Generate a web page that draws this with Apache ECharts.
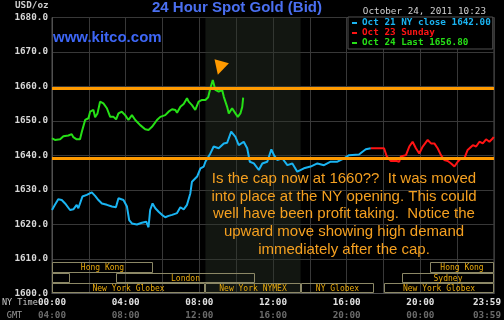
<!DOCTYPE html>
<html><head><meta charset="utf-8">
<script src="https://cdn.jsdelivr.net/npm/echarts@6/dist/echarts.min.js"></script>
<style>html,body{margin:0;padding:0;background:#000;}#c{width:504px;height:320px;}</style>
</head><body><div id="c"></div>
<script>
const titleText = '24 Hour Spot Gold (Bid)';
const siteText = 'www.kitco.com';
const dateText = 'October 24, 2011 10:23';
const unitText = 'USD/oz';
const xRowNames = ['NY Time', 'GMT'];
const seriesNames = ['Oct 21 NY close 1642.00', 'Oct 23 Sunday', 'Oct 24 Last 1656.80'];
const nyTimeLabels = ['00:00','04:00','08:00','12:00','16:00','20:00','23:59'];
const gmtLabels = ['04:00','08:00','12:00','16:00','20:00','00:00','03:59'];

const oct21Hours = [0.00,0.16,0.34,0.53,0.71,0.98,1.16,1.34,1.43,1.52,1.65,1.89,2.16,2.34,2.52,2.71,2.98,3.25,3.47,3.61,3.88,4.07,4.19,4.34,4.61,4.88,5.12,5.24,5.33,5.46,5.61,5.79,5.97,6.15,6.33,6.52,6.79,6.97,7.15,7.33,7.51,7.60,7.88,8.06,8.24,8.33,8.60,8.78,9.05,9.33,9.51,9.73,9.96,10.14,10.41,10.60,10.74,10.96,11.23,11.42,11.69,11.91,12.05,12.23,12.50,12.78,13.05,13.32,13.68,14.04,14.41,14.77,15.13,15.50,15.86,16.13,16.67,16.86,17.04,17.31];
const oct21Prices = [1624.2,1625.7,1627.3,1627.1,1626.1,1624.2,1624.4,1625.7,1624.7,1624.2,1628.1,1628.6,1629.3,1628.3,1627.1,1626.1,1625.7,1625.2,1625.0,1627.6,1627.1,1625.2,1621.3,1620.3,1620.0,1620.5,1620.8,1619.2,1624.2,1626.1,1624.7,1623.7,1622.8,1622.1,1622.5,1622.8,1623.3,1625.0,1624.4,1625.7,1629.0,1632.4,1633.9,1636.3,1636.8,1638.2,1640.6,1642.6,1642.1,1643.5,1643.7,1646.9,1645.4,1643.0,1644.0,1642.1,1638.2,1637.7,1635.8,1637.7,1638.2,1641.8,1640.1,1638.7,1639.2,1637.2,1637.7,1635.3,1636.3,1636.8,1637.7,1637.2,1638.2,1638.2,1639.2,1640.1,1640.3,1641.1,1641.8,1642.1];

const oct23Hours = [17.31,18.03,18.18,18.40,18.67,18.85,18.94,19.22,19.40,19.58,19.76,19.94,20.13,20.40,20.58,20.76,20.94,21.12,21.30,21.49,21.67,21.85,22.03,22.21,22.39,22.57,22.85,23.03,23.21,23.39,23.57,23.75,23.94,23.98];
const oct23Prices = [1642.1,1642.1,1639.7,1638.4,1638.5,1638.2,1639.7,1640.1,1642.6,1644.0,1642.1,1640.6,1642.6,1644.5,1643.5,1643.5,1642.1,1640.1,1638.7,1638.4,1637.7,1636.8,1638.2,1639.2,1639.2,1641.6,1643.0,1642.6,1644.0,1643.5,1644.7,1644.0,1645.0,1645.4];

const oct24Hours = [0.00,0.16,0.44,0.62,0.89,1.07,1.16,1.34,1.52,1.62,1.80,1.98,2.07,2.25,2.34,2.47,2.61,2.79,2.98,3.16,3.34,3.48,3.61,3.79,3.97,4.15,4.34,4.52,4.79,5.06,5.24,5.43,5.70,5.88,6.15,6.33,6.52,6.70,6.79,6.97,7.15,7.33,7.42,7.60,7.78,7.96,8.15,8.33,8.48,8.60,8.73,8.87,9.05,9.24,9.33,9.51,9.60,9.78,9.96,10.09,10.23,10.33,10.38];
const oct24Prices = [1645.0,1644.5,1644.7,1645.6,1645.8,1646.2,1645.3,1644.7,1644.7,1646.9,1650.3,1650.8,1652.7,1653.2,1651.1,1652.2,1655.6,1655.1,1653.7,1651.2,1651.2,1650.5,1652.2,1652.7,1651.7,1650.3,1651.7,1650.3,1648.8,1647.6,1647.4,1648.3,1650.3,1651.2,1651.7,1652.7,1653.4,1653.2,1652.4,1654.1,1654.9,1656.6,1655.6,1654.6,1653.2,1655.6,1656.1,1656.1,1656.9,1659.5,1661.9,1659.0,1658.5,1659.0,1657.0,1654.1,1652.2,1653.7,1652.2,1651.2,1652.2,1654.1,1656.8];

const capLevels = [1659.6, 1639.2];
const nymexHours = [8.33, 13.5];

const sessionNames = ['Hong Kong','','London','New York Globex','New York NYMEX','NY Globex','Hong Kong','Sydney','New York Globex'];
const sessionStart = [0, 0, 3.5, 0, 8.33, 13.5, 20.5, 19, 18];
const sessionEnd   = [5.5, 1, 11, 8.33, 13.5, 17.5, 24, 24, 24];
const sessionRow   = [0, 1, 1, 2, 2, 2, 0, 1, 2];

const noteLines = [
  'Is the cap now at 1660??  It was moved',
  'into place at the NY opening. This could',
  'well have been profit taking.  Notice the',
  'upward move showing high demand',
  'immediately after the cap.'
];

const colors = ['#1ab4f2', '#ff1414', '#26e016'];
const mono = "'DejaVu Sans Mono', monospace";
const sans = "'Liberation Sans', Arial, sans-serif";

const zip = (h, p) => h.map((x, i) => [x, p[i]]);
let peakIdx = 0;
oct24Prices.forEach((v, i) => { if (v > oct24Prices[peakIdx]) peakIdx = i; });

const chart = echarts.init(document.getElementById('c'), null, {renderer: 'canvas'});

const lineSeries = (name, data, color) => ({
  name, type: 'line', data, showSymbol: false, symbol: 'none',
  lineStyle: {color, width: 2}, itemStyle: {color}, z: 3, silent: true
});

const rowTops = [1609.1, 1605.9, 1602.95];
const rowBots = [1606.05, 1603.05, 1600.1];

const option = {
  backgroundColor: '#000',
  animation: false,
  title: {
    text: titleText, left: 152, top: 0, padding: 0,
    textStyle: {color: '#4a6ff0', fontSize: 15, fontWeight: 'bold', fontFamily: sans}
  },
  legend: {
    orient: 'vertical', left: 348, top: 17,
    padding: [1, 2, 1, 4], itemGap: 0, itemWidth: 5, itemHeight: 2, icon: 'rect',
    backgroundColor: '#000', borderColor: '#505050', borderWidth: 1,
    selectedMode: false,
    textStyle: {fontFamily: mono, fontSize: 9.3, fontWeight: 'bold', lineHeight: 10},
    data: seriesNames.map((n, i) => ({name: n, itemStyle: {color: colors[i]}, textStyle: {color: colors[i]}})),
    z: 10
  },
  grid: {left: 52, right: 10, top: 17.5, bottom: 26.5, show: true, borderColor: '#505050', borderWidth: 1, backgroundColor: 'transparent', outerBoundsMode: 'none'},
  xAxis: {
    type: 'value', min: 0, max: 24, interval: 2,
    axisLine: {show: true, lineStyle: {color: '#505050'}},
    axisTick: {show: false},
    splitLine: {show: true, lineStyle: {color: '#383838', width: 1}},
    axisLabel: {
      show: true, margin: 3, showMinLabel: true, showMaxLabel: true,
      formatter: v => {
        if (v % 4 !== 0) return '';
        const i = v / 4;
        const s = i === 6 ? '2' : '';
        return '{a' + s + '|' + nyTimeLabels[i] + '}\n{b' + s + '|' + gmtLabels[i] + '}';
      },
      rich: {
        a: {color: '#e0e0e0', fontFamily: mono, fontWeight: 'bold', fontSize: 9.3, lineHeight: 12.5},
        b: {color: '#6a6a6a', fontFamily: mono, fontWeight: 'bold', fontSize: 9.3, lineHeight: 12.5},
        a2: {color: '#e0e0e0', fontFamily: mono, fontWeight: 'bold', fontSize: 9.3, lineHeight: 12.5, padding: [0, 14, 0, 0]},
        b2: {color: '#6a6a6a', fontFamily: mono, fontWeight: 'bold', fontSize: 9.3, lineHeight: 12.5, padding: [0, 14, 0, 0]}
      }
    }
  },
  yAxis: {
    type: 'value', min: 1600, max: 1680, interval: 10,
    axisLine: {show: true, lineStyle: {color: '#505050'}},
    axisTick: {show: false},
    splitLine: {show: true, lineStyle: {color: '#383838', width: 1}},
    axisLabel: {margin: 4, color: '#d8d8d8', fontFamily: mono, fontWeight: 'bold', fontSize: 9.3, formatter: v => v.toFixed(1)}
  },
  series: [
    {
      type: 'line', data: [], z: 1, silent: true,
      markArea: {
        silent: true,
        itemStyle: {color: 'rgba(44,52,40,0.42)'},
        data: [[{xAxis: nymexHours[0], yAxis: 1600}, {xAxis: nymexHours[1], yAxis: 1680}]]
      }
    },
    {
      type: 'custom', silent: true, z: 2,
      data: sessionNames.map((_, i) => [sessionStart[i], sessionEnd[i], sessionRow[i]]),
      encode: {x: [0, 1], y: 2},
      renderItem: (params, api) => {
        const i = params.dataIndex;
        const row = api.value(2);
        const a = api.coord([api.value(0), rowTops[row]]);
        const b = api.coord([api.value(1), rowBots[row]]);
        const x0 = Math.round(a[0]) + 0.5, x1 = Math.round(b[0]) - 0.5;
        const y0 = Math.round(a[1]) + 0.5, y1 = Math.round(b[1]) - 0.5;
        return {type: 'group', children: [
          {type: 'rect', shape: {x: x0, y: y0, width: x1 - x0, height: y1 - y0}, style: {fill: 'transparent', stroke: '#8c8866', lineWidth: 1}},
          {type: 'text', style: {text: sessionNames[i], x: (x0 + x1) / 2, y: (y0 + y1) / 2 + 0.5, align: 'center', verticalAlign: 'middle', fill: '#e8a90c', font: '8px ' + mono}}
        ]};
      }
    },
    lineSeries(seriesNames[0], zip(oct21Hours, oct21Prices), colors[0]),
    lineSeries(seriesNames[1], zip(oct23Hours, oct23Prices), colors[1]),
    Object.assign(lineSeries(seriesNames[2], zip(oct24Hours, oct24Prices), colors[2]), {
      markPoint: {
        silent: true, symbol: 'triangle', symbolSize: [15, 14], symbolRotate: 164, symbolOffset: [7, -12],
        itemStyle: {color: '#ff9a00'}, label: {show: false},
        data: [{coord: [oct24Hours[peakIdx], oct24Prices[peakIdx]]}]
      }
    }),
    {
      type: 'line', data: [], z: 5, silent: true,
      markLine: {
        silent: true, symbol: ['none', 'none'], label: {show: false},
        lineStyle: {color: '#ff9a00', width: 3, type: 'solid'},
        data: capLevels.map(v => ({yAxis: v}))
      }
    }
  ],
  graphic: [
    {type: 'text', x: 15, y: 6, z: 100, style: {text: unitText, font: 'bold 9.3px ' + mono, fill: '#cfcfcf', verticalAlign: 'middle'}},
    {type: 'text', x: 486, y: 12, z: 100, style: {text: dateText, font: '9.3px ' + mono, fill: '#d0d0d0', align: 'right', verticalAlign: 'middle'}},
    {type: 'text', x: 53, y: 38, z: 100, style: {text: siteText, font: 'bold 15px ' + sans, fill: '#3d66f5', verticalAlign: 'middle'}},
    {type: 'text', x: 2, y: 303, z: 100, style: {text: xRowNames[0], font: '8.5px ' + mono, fill: '#c8c8c8', verticalAlign: 'middle'}},
    {type: 'text', x: 14.5, y: 316, z: 100, style: {text: xRowNames[1], font: '8.5px ' + mono, fill: '#9a9a9a', align: 'center', verticalAlign: 'middle'}},
    {type: 'text', x: 344, y: 170, z: 100, style: {text: noteLines.join('\n'), font: '15px ' + sans, lineHeight: 17.7, fill: '#f5a020', align: 'center', verticalAlign: 'top'}}
  ]
};
chart.setOption(option);
</script>
</body></html>
